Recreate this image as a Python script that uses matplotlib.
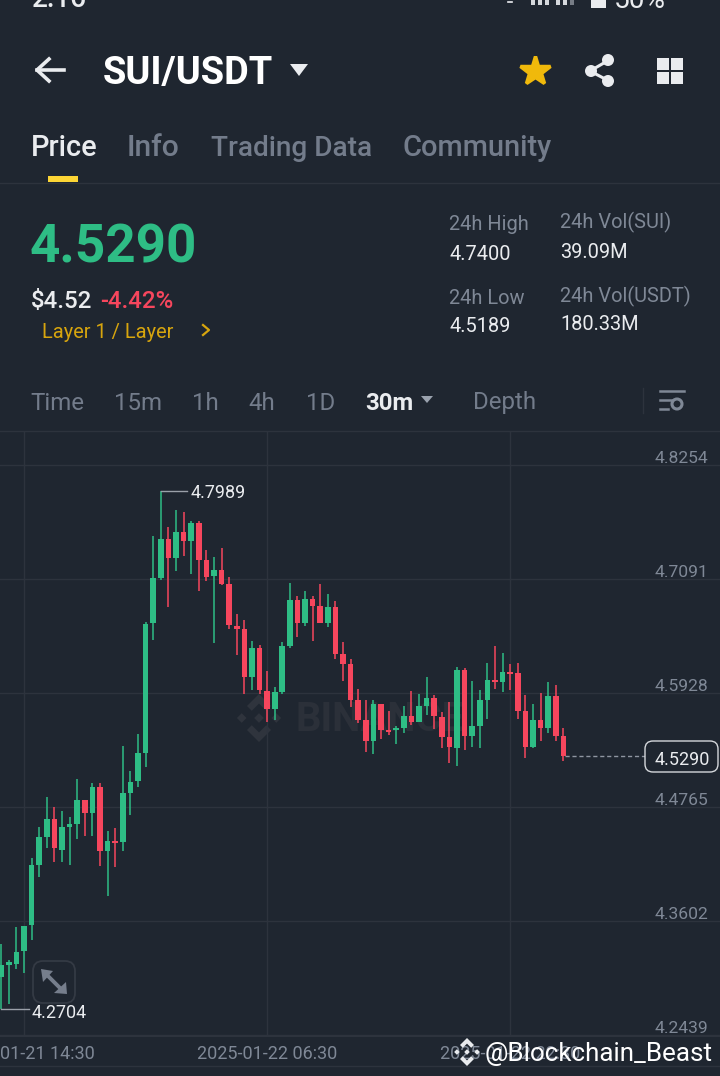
import matplotlib
matplotlib.use("Agg")
from matplotlib import pyplot as plt
from matplotlib.patches import FancyBboxPatch, Polygon, Rectangle, Circle

plt.rcParams['font.family'] = ['Roboto', 'DejaVu Sans']

# candles, 30m, SUI/USDT
opens = [4.3031, 4.3151, 4.3161, 4.3291, 4.3562, 4.4172, 4.4462, 4.4642, 4.4322, 4.4562,
         4.4592, 4.4832, 4.4702, 4.4972, 4.4312, 4.4422, 4.4412, 4.4912, 4.5032, 4.5312,
         4.6642, 4.7102, 4.7503, 4.7302, 4.7573, 4.7483, 4.7663, 4.7282, 4.7122, 4.7182,
         4.7042, 4.6612, 4.6582, 4.6092, 4.6392, 4.5952, 4.5762, 4.5942, 4.6412, 4.6872,
         4.6642, 4.6892, 4.6812, 4.6642, 4.6802, 4.6322, 4.6222, 4.5852, 4.5652, 4.5442,
         4.5812, 4.5552, 4.5552, 4.5572, 4.5692, 4.5632, 4.5792, 4.5882, 4.5682, 4.5482,
         4.5372, 4.6162, 4.5492, 4.5592, 4.5852, 4.6062, 4.6042, 4.6142, 4.6132, 4.5742,
         4.5382, 4.5652, 4.5572, 4.5902, 4.5492]
highs = [4.3369, 4.3201, 4.3542, 4.3552, 4.4242, 4.4562, 4.4872, 4.4762, 4.4722, 4.4662,
         4.5052, 4.4832, 4.5012, 4.5012, 4.4522, 4.4552, 4.5392, 4.5132, 4.5512, 4.6652,
         4.7533, 4.7989, 4.7623, 4.7793, 4.7773, 4.7683, 4.7683, 4.7382, 4.7312, 4.7403,
         4.7112, 4.6732, 4.6672, 4.6462, 4.6422, 4.6152, 4.5992, 4.6452, 4.7052, 4.6922,
         4.6972, 4.6922, 4.7042, 4.6942, 4.6862, 4.6452, 4.6272, 4.5972, 4.5852, 4.5852,
         4.5812, 4.5742, 4.5592, 4.5792, 4.5952, 4.5922, 4.6092, 4.5912, 4.5732, 4.5832,
         4.6192, 4.6182, 4.6052, 4.5962, 4.6232, 4.6412, 4.6332, 4.6222, 4.6232, 4.5912,
         4.5812, 4.5932, 4.6042, 4.6012, 4.5572]
lows = [4.2704, 4.2754, 4.3111, 4.3071, 4.3412, 4.4052, 4.4342, 4.4202, 4.4202, 4.4172,
        4.4442, 4.4472, 4.4472, 4.4162, 4.3862, 4.4152, 4.4312, 4.4682, 4.4972, 4.5172,
        4.6472, 4.7082, 4.6802, 4.7172, 4.7322, 4.7142, 4.6972, 4.7072, 4.6442, 4.7032,
        4.6582, 4.6312, 4.5922, 4.5962, 4.5922, 4.5632, 4.5652, 4.5922, 4.6382, 4.6502,
        4.6612, 4.6462, 4.6642, 4.6602, 4.6272, 4.6052, 4.5782, 4.5622, 4.5322, 4.5302,
        4.5462, 4.5502, 4.5412, 4.5522, 4.5602, 4.5632, 4.5702, 4.5562, 4.5372, 4.5212,
        4.5182, 4.5342, 4.5382, 4.5362, 4.5662, 4.5972, 4.5942, 4.5962, 4.5662, 4.5262,
        4.5362, 4.5442, 4.5522, 4.5442, 4.5232]
closes = [4.3151, 4.3181, 4.3281, 4.3552, 4.4172, 4.4462, 4.4642, 4.4342, 4.4562, 4.4592,
          4.4832, 4.4702, 4.4972, 4.4312, 4.4422, 4.4402, 4.4912, 4.5022, 4.5312, 4.6632,
          4.7102, 4.7503, 4.7302, 4.7573, 4.7483, 4.7663, 4.7282, 4.7112, 4.7182, 4.7042,
          4.6622, 4.6582, 4.6092, 4.6392, 4.5962, 4.5762, 4.5942, 4.6412, 4.6872, 4.6642,
          4.6892, 4.6812, 4.6642, 4.6802, 4.6322, 4.6222, 4.5852, 4.5652, 4.5442, 4.5812,
          4.5552, 4.5532, 4.5572, 4.5692, 4.5632, 4.5792, 4.5882, 4.5692, 4.5482, 4.5382,
          4.6162, 4.5492, 4.5592, 4.5852, 4.6062, 4.6042, 4.6142, 4.6122, 4.5742, 4.5382,
          4.5652, 4.5572, 4.5902, 4.5492, 4.5290]

price_ticks = [4.8254, 4.7091, 4.5928, 4.4765, 4.3602, 4.2439]
time_ticks = [3, 35, 67]
time_labels = ['01-21 14:30', '2025-01-22 06:30', '2025-01-22 22:30']
last_price = 4.5290
max_price = 4.7989
min_price = 4.2704

BG = '#1f2630'
GRID = '#2d333d'
GREEN = '#2ebd85'
RED = '#f6465d'
MUTED = '#7f8896'
LIGHT = '#eaecef'
W, H = 720, 1076


def fs(px):
    return px * 0.72


def binance_logo(axis, cx, cy, r, color, zorder=1):
    chevron = [(0, -1), (0.5, -0.5), (0.3, -0.3), (0, -0.6), (-0.3, -0.3), (-0.5, -0.5)]
    axis.add_patch(Polygon([(cx + a * r, cy + b * r) for a, b in chevron], color=color, lw=0, zorder=zorder))
    axis.add_patch(Polygon([(cx + a * r, cy - b * r) for a, b in chevron], color=color, lw=0, zorder=zorder))
    for dx in (-0.72, 0, 0.72):
        s = 0.2
        axis.add_patch(Polygon([(cx + (dx - s) * r, cy), (cx + dx * r, cy - s * r),
                                (cx + (dx + s) * r, cy), (cx + dx * r, cy + s * r)],
                               color=color, lw=0, zorder=zorder))


fig = plt.figure(figsize=(W / 100, H / 100), dpi=100, facecolor=BG)

# screen chrome, axes in pixels
ui = fig.add_axes([0, 0, 1, 1], zorder=0)
ui.set_xlim(0, W)
ui.set_ylim(H, 0)
ui.axis('off')

# status bar
ui.text(32, 7, '2:16', color=LIGHT, fontsize=fs(28), fontweight='medium', va='baseline')
ui.text(614, 8, '50%', color=LIGHT, fontsize=fs(28), va='baseline')
for bx in (531, 538, 545, 556, 563, 570):
    ui.add_patch(Rectangle((bx, 0), 4, 5, color='#d5d8dc' if bx < 570 else '#777d86', lw=0))
ui.add_patch(Rectangle((591, 0), 15, 8, color=LIGHT, lw=0))
ui.plot([508, 512], [2, 2], color=LIGHT, lw=1.2)

# title row
ui.plot([37, 64], [70, 70], color=LIGHT, lw=2.6)
ui.plot([49, 37, 49], [59, 70, 81], color=LIGHT, lw=2.6)
ui.text(103, 74, 'SUI/USDT', color='white', fontsize=fs(38), fontweight='bold', va='center')
ui.add_patch(Polygon([(290, 64), (308, 64), (299, 76)], color=LIGHT, lw=0))
ui.plot([535], [71], marker='*', ms=22, color='#f0b90b', mec='#f0b90b', mew=2.5)
ui.plot([609, 590, 609], [60, 71, 81], color=LIGHT, lw=2.2)
for sx, sy in [(608, 60), (591, 71), (608, 81)]:
    ui.add_patch(Circle((sx, sy), 6, color=LIGHT, lw=0))
for sx, sy in [(657, 58), (671, 58), (657, 72), (671, 72)]:
    ui.add_patch(Rectangle((sx, sy), 12, 12, color=LIGHT, lw=0))

# tabs
ui.text(31, 148, 'Price', color=LIGHT, fontsize=fs(29), fontweight='medium', va='center')
for tab_x, tab, tab_px in [(127, 'Info', 30), (211, 'Trading Data', 28), (403, 'Community', 29)]:
    ui.text(tab_x, 148, tab, color='#737c8b', fontsize=fs(tab_px), fontweight='medium', va='center')
ui.add_patch(Rectangle((48, 176), 30, 6, color='#fcd535', lw=0))
ui.plot([0, W], [182.5, 182.5], color=GRID, lw=1)

# price block
ui.text(30, 248, '4.5290', color=GREEN, fontsize=fs(53), fontweight='bold', va='center')
ui.text(31, 301, '$4.52', color=LIGHT, fontsize=fs(24), fontweight='medium', va='center')
ui.text(100, 301, '-4.42%', color=RED, fontsize=fs(24), fontweight='medium', va='center')
ui.text(42, 332, 'Layer 1 / Layer', color='#d7a50e', fontsize=fs(20), va='center')
ui.plot([203, 209, 203], [325, 330, 335], color='#d7a50e', lw=1.6)
ui.text(449, 225, '24h High', color=MUTED, fontsize=fs(20), va='center')
ui.text(449, 254, '4.7400', color=LIGHT, fontsize=fs(20), va='center')
ui.text(449, 299, '24h Low', color=MUTED, fontsize=fs(20), va='center')
ui.text(449, 327, '4.5189', color=LIGHT, fontsize=fs(20), va='center')
ui.text(560, 222, '24h Vol(SUI)', color=MUTED, fontsize=fs(20), va='center')
ui.text(560, 252, '39.09M', color=LIGHT, fontsize=fs(20), va='center')
ui.text(560, 296, '24h Vol(USDT)', color=MUTED, fontsize=fs(20), va='center')
ui.text(560, 325, '180.33M', color=LIGHT, fontsize=fs(20), va='center')

# interval row
for int_x, name in [(30, 'Time'), (114, '15m'), (192, '1h'), (248, '4h'), (306, '1D'), (473, 'Depth')]:
    ui.text(int_x, 403, name, color='#737c8b', fontsize=fs(24), va='center')
ui.text(365, 403, '30m', color=LIGHT, fontsize=fs(24), fontweight='bold', va='center')
ui.add_patch(Polygon([(421, 396), (433, 396), (427, 403)], color='#9aa2ae', lw=0))
ui.plot([643, 643], [388, 413], color=GRID, lw=1)
ui.plot([660, 684], [391, 391], color=MUTED, lw=1.8)
ui.plot([660, 672], [400, 400], color=MUTED, lw=1.8)
ui.plot([660, 668], [409, 409], color=MUTED, lw=1.8)
ui.add_patch(Circle((677, 404), 5, fc='none', ec=MUTED, lw=2.2))
ui.plot([0, W], [430.5, 430.5], color=GRID, lw=1)
ui.plot([0, W], [1066, 1066], color=GRID, lw=1)

# watermark sits under the candles
binance_logo(ui, 259, 718, 24, '#2f343d')
ui.text(295, 720, 'BINANCE', color='#2b3039', fontsize=fs(40), fontweight='bold', va='center')

# chart, y scale taken from the price labels (114 px per 0.1163)
per_px = 0.1163 / 114
ax = fig.add_axes([0, 1 - 1036 / H, 1, (1036 - 432) / H], zorder=1)
ax.patch.set_alpha(0)
ax.set_xlim(-0.171, 94.63)
ax.set_ylim(price_ticks[-1] - 1 * per_px, price_ticks[0] + 33 * per_px)
for side in ax.spines.values():
    side.set_visible(False)
ax.spines['bottom'].set_visible(True)
ax.spines['bottom'].set_color(GRID)
ax.set_yticks(price_ticks)
ax.set_xticks(time_ticks)
ax.set_xticklabels([])
ax.set_yticklabels([])
ax.tick_params(length=0)
ax.grid(True, color=GRID, lw=1)
ax.set_axisbelow(True)

for i in range(len(opens)):
    color = GREEN if closes[i] >= opens[i] else RED
    ax.vlines(i, lows[i], highs[i], color=color, lw=1.1, zorder=3)
    ax.bar(i, abs(closes[i] - opens[i]), bottom=min(opens[i], closes[i]), width=0.74, color=color, lw=0, zorder=3)

for p in price_ticks:
    ax.annotate(f'{p:.4f}', (1, p), xycoords=('axes fraction', 'data'), xytext=(-12, -1),
                textcoords='offset pixels', ha='right', va='bottom', color=MUTED, fontsize=fs(17.5))

# high / low callouts
ax.plot([21, 24.5], [max_price, max_price], color='#9aa0a9', lw=1, zorder=4)
ax.annotate(f'{max_price:.4f}', (24.9, max_price), xytext=(0, -2), textcoords='offset pixels',
            color=LIGHT, fontsize=fs(18), va='center')
ax.plot([0, 3.7], [min_price, min_price], color='#9aa0a9', lw=1, zorder=4)

# last price line
ax.plot([74.2, 84.7], [last_price, last_price], color='#8f96a1', lw=1, ls=(0, (3, 2)), zorder=2)

# bottom labels, last price box and expand button on top
top = fig.add_axes([0, 0, 1, 1], zorder=2)
top.patch.set_alpha(0)
top.set_xlim(0, W)
top.set_ylim(H, 0)
top.axis('off')

top.text(0, 1054, time_labels[0], color=MUTED, fontsize=fs(18), va='center')
top.text(267, 1054, time_labels[1], color=MUTED, fontsize=fs(18), ha='center', va='center')
top.text(510, 1054, time_labels[2], color=MUTED, fontsize=fs(18), ha='center', va='center')

top.add_patch(FancyBboxPatch((647, 743), 69, 27, boxstyle='round,pad=2,rounding_size=8',
                             fc=BG, ec='#d5d8dc', lw=1))
top.text(682, 760, f'{last_price:.4f}', color=LIGHT, fontsize=fs(18), ha='center', va='center')

top.add_patch(FancyBboxPatch((33, 961), 42, 42, boxstyle='round,pad=0,rounding_size=10',
                             fc=BG, ec='#343a44', lw=1.3))
top.plot([46, 62], [974, 990], color='#767e8c', lw=2.8)
top.add_patch(Polygon([(41, 969), (53, 971), (43, 982)], color='#767e8c', lw=0))
top.add_patch(Polygon([(67, 994), (54, 993), (66, 982)], color='#767e8c', lw=0))
top.text(32, 1013, f'{min_price:.4f}', color=LIGHT, fontsize=fs(18), va='center')

binance_logo(top, 467, 1052, 14, '#e8eaed', zorder=5)
top.text(485, 1054, '@Blockchain_Beast', color='white', fontsize=fs(26), va='center', zorder=5)

fig.savefig('out.png', dpi=100, facecolor=BG)
